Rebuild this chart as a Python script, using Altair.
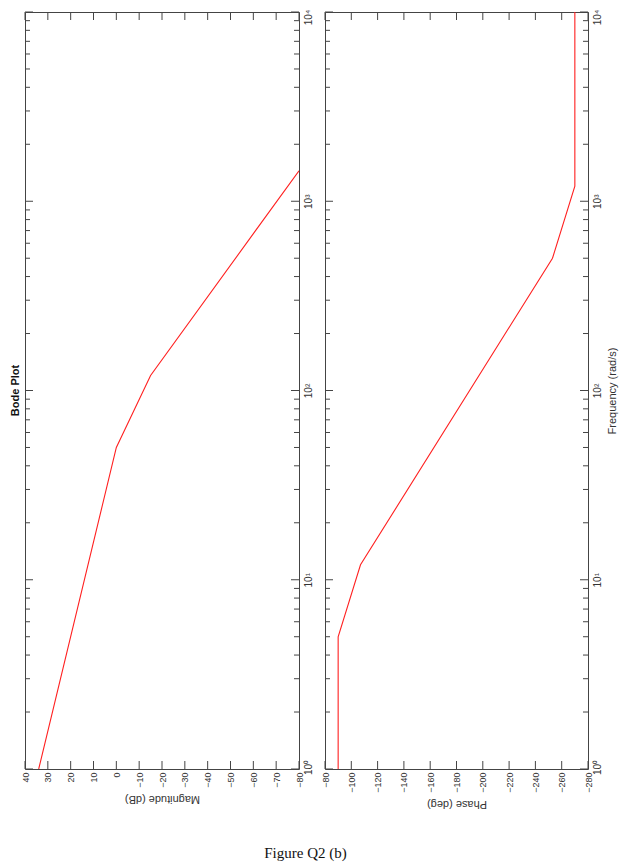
import altair as alt
import pandas as pd

# ---- data ----
mag_freq = [1, 50, 120, 1450]
mag_db = [34, 0, -15, -80]

phase_freq = [1, 5, 12, 500, 1200, 10000]
phase_deg = [-90, -90, -107, -253, -270, -270]

decades = [1, 10, 100, 1000]
multiples = [2, 3, 4, 5, 6, 7, 8, 9]
freq_major = [1, 10, 100, 1000, 10000]
mag_ticks = [40, 30, 20, 10, 0, -10, -20, -30, -40, -50, -60, -70, -80]
phase_ticks = [-80, -100, -120, -140, -160, -180, -200, -220, -240, -260, -280]

freq_minor = [d * m for d in decades for m in multiples]

mag_df = pd.DataFrame({"freq": mag_freq, "val": mag_db})
phase_df = pd.DataFrame({"freq": phase_freq, "val": phase_deg})
major_df = pd.DataFrame({"freq": freq_major})
minor_df = pd.DataFrame({"freq": freq_minor})

FONT = "Liberation Sans"
TXT = "#333333"
FRAME = "#444444"
H = 757
MAJ = 8
MIN = 5

yscale = alt.Scale(type="log", domain=[1, 10000], nice=False)
label_expr = "'10' + ['\u2070','\u00b9','\u00b2','\u00b3','\u2074'][round(log(datum.value)/LN10)]"
ylab_offset = {"condition": [{"test": "datum.value >= 10000", "value": 5},
                             {"test": "datum.value <= 1", "value": -2}],
               "value": 0}


def panel(df, vals, xdomain, width, xtitle, ytitle):
    xscale = alt.Scale(domain=xdomain, reverse=True, nice=False, zero=False)
    xaxis = alt.Axis(values=vals, ticks=False, domain=False, grid=False, orient="bottom",
                     labelAngle=270, labelAlign="right", labelBaseline="middle",
                     labelPadding=3, labelFont=FONT, labelFontSize=9, labelColor=TXT,
                     title=xtitle, titleAngle=180, titleBaseline="bottom",
                     titleFont=FONT, titleFontSize=11, titleFontWeight="normal",
                     titleColor=TXT, titlePadding=6, labelOverlap=False)
    yaxis = alt.Axis(values=freq_major, ticks=False, domain=False, grid=False, orient="right",
                     labelExpr=label_expr, labelAngle=270, labelAlign="center",
                     labelBaseline="top", labelPadding=4, labelFont=FONT,
                     labelFontSize=10, labelColor=TXT, labelOffset=ylab_offset,
                     title=ytitle, titleAngle=270, titleBaseline="top",
                     titleFont=FONT, titleFontSize=11, titleFontWeight="normal",
                     titleColor=TXT, titlePadding=4, labelOverlap=False)

    line = alt.Chart(df).mark_line(color="#ff2020", strokeWidth=1.1, clip=True).encode(
        x=alt.X("val:Q", scale=xscale, axis=xaxis),
        y=alt.Y("freq:Q", scale=yscale, axis=yaxis),
        order="freq:Q",
    )

    layers = [line]
    for data, L in ((major_df, MAJ), (minor_df, MIN)):
        layers.append(alt.Chart(data).mark_rule(color=FRAME, strokeWidth=1).encode(
            y=alt.Y("freq:Q", scale=yscale, axis=yaxis),
            x=alt.value(0), x2=alt.value(L)))
        layers.append(alt.Chart(data).mark_rule(color=FRAME, strokeWidth=1).encode(
            y=alt.Y("freq:Q", scale=yscale, axis=yaxis),
            x=alt.value(width), x2=alt.value(width - L)))
    vdf = pd.DataFrame({"val": vals})
    layers.append(alt.Chart(vdf).mark_rule(color=FRAME, strokeWidth=1).encode(
        x=alt.X("val:Q", scale=xscale, axis=xaxis),
        y=alt.value(H), y2=alt.value(H - MAJ)))
    layers.append(alt.Chart(vdf).mark_rule(color=FRAME, strokeWidth=1).encode(
        x=alt.X("val:Q", scale=xscale, axis=xaxis),
        y=alt.value(0), y2=alt.value(MAJ)))
    return alt.layer(*layers).properties(width=width, height=H)


left = panel(mag_df, mag_ticks, [-80, 40], 274, "Magnitude (dB)", "").properties(
    title=alt.TitleParams("Bode Plot", orient="left", anchor="middle", font=FONT,
                          fontSize=11, fontWeight="bold", color="#111111", offset=0))
right = panel(phase_df, phase_ticks, [-280, -80], 263, "Phase (deg)", "Frequency (rad/s)")

chart = alt.hconcat(left, right, spacing=26, bounds="flush").properties(
    title=alt.TitleParams("Figure Q2 (b)", orient="bottom", anchor="middle",
                          font="Liberation Serif", fontSize=15, fontWeight="normal",
                          color="#111111", offset=36, dx=-8),
    padding={"top": 0, "left": 1, "right": 2, "bottom": 2},
).configure_view(stroke=FRAME, strokeWidth=1)

chart.save("out.html", embed_options={"renderer": "svg", "actions": False})
